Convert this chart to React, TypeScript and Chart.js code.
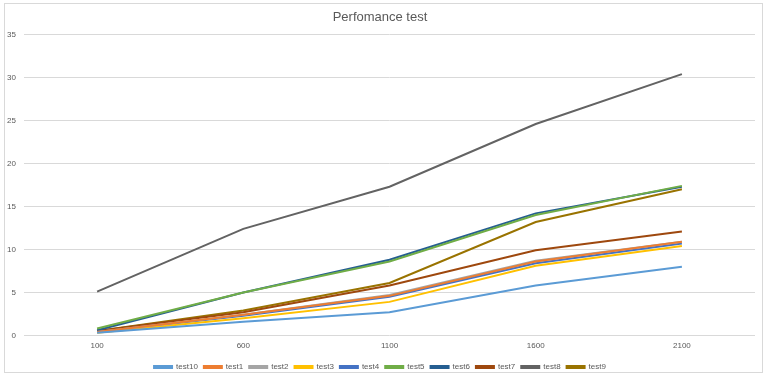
import React, { useEffect, useRef } from "react";
import { Chart, registerables } from "chart.js";

Chart.register(...registerables);

const categories = ["100", "600", "1100", "1600", "2100"];
const seriesNames = ["test10", "test1", "test2", "test3", "test4", "test5", "test6", "test7", "test8", "test9"];
const test10 = [0.3, 1.6, 2.7, 5.8, 8.0];
const test1 = [0.4, 2.4, 4.6, 8.6, 10.9];
const test2 = [0.4, 2.4, 4.7, 8.7, 10.9];
const test3 = [0.3, 2.0, 3.9, 8.1, 10.4];
const test4 = [0.4, 2.3, 4.5, 8.4, 10.7];
const test5 = [0.8, 5.0, 8.6, 14.0, 17.4];
const test6 = [0.6, 5.0, 8.8, 14.2, 17.3];
const test7 = [0.5, 2.7, 5.8, 9.9, 12.1];
const test8 = [5.1, 12.4, 17.3, 24.6, 30.4];
const test9 = [0.5, 2.9, 6.1, 13.2, 17.0];
const seriesValues = [test10, test1, test2, test3, test4, test5, test6, test7, test8, test9];
const colors = ["#5B9BD5", "#ED7D31", "#A5A5A5", "#FFC000", "#4472C4", "#70AD47", "#255E91", "#9E480E", "#636363", "#997300"];

const FONT = "'Liberation Sans Narrow', 'Liberation Sans', Arial, sans-serif";

export default function App() {
  const ref = useRef<HTMLCanvasElement | null>(null);
  useEffect(() => {
    if (!ref.current) return;
    const chart = new Chart(ref.current, {
      type: "line",
      data: {
        labels: categories,
        datasets: seriesNames.map((name, i) => ({
          label: name,
          data: seriesValues[i],
          borderColor: colors[i],
          backgroundColor: colors[i],
          borderWidth: 2,
          pointRadius: 0,
          tension: 0,
          fill: false,
        })),
      },
      options: {
        animation: false,
        responsive: true,
        maintainAspectRatio: false,
        layout: { padding: { left: 0, right: 7, top: 6, bottom: -9 } },
        plugins: {
          title: {
            display: true,
            text: "Perfomance test",
            color: "#595959",
            font: { family: FONT, size: 13, weight: "normal" },
            padding: { top: 0, bottom: 9 },
          },
          legend: {
            position: "bottom",
            labels: {
              boxWidth: 18,
              boxHeight: 2,
              padding: 6,
              color: "#595959",
              font: { family: FONT, size: 8 },
            },
          },
          tooltip: { enabled: false },
        },
        scales: {
          x: {
            offset: true,
            grid: { display: false, drawTicks: false },
            border: { display: false },
            ticks: { color: "#595959", font: { family: FONT, size: 8 }, padding: 6 },
          },
          y: {
            min: 0,
            max: 35,
            ticks: { stepSize: 5, color: "#595959", font: { family: FONT, size: 8 }, padding: 8 },
            grid: { color: "#D9D9D9", drawTicks: false },
            border: { display: false },
            afterFit: (scale: any) => {
              scale.width = 19;
            },
          },
        },
      },
    });
    return () => chart.destroy();
  }, []);
  return (
    <div
      style={{
        position: "absolute",
        left: 4,
        top: 3,
        width: 757,
        height: 368,
        border: "1px solid #D9D9D9",
        background: "#fff",
      }}
    >
      <canvas ref={ref} />
    </div>
  );
}
